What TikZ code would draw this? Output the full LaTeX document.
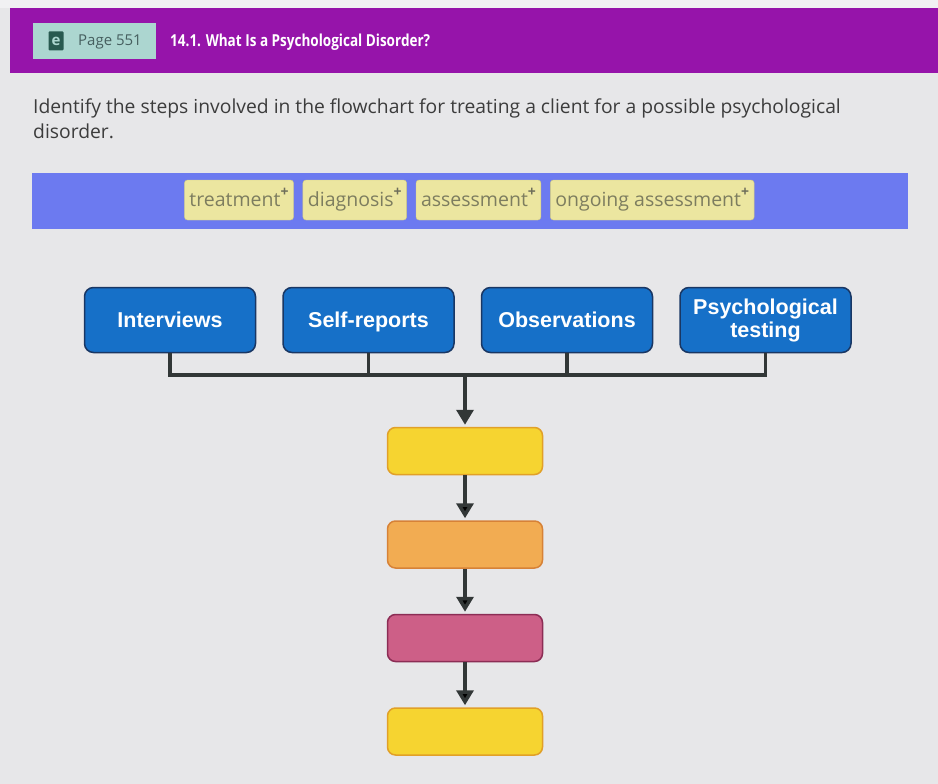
\documentclass[tikz,border=0pt]{standalone}
\usepackage{fontspec}
\setmainfont{Open Sans}
\newfontfamily\boxfont{Liberation Sans}
\usetikzlibrary{positioning,arrows.meta}

\definecolor{pagebg}{RGB}{231,231,233}
\definecolor{topstrip}{RGB}{241,241,243}
\definecolor{headerpurple}{RGB}{150,20,170}
\definecolor{badgefill}{RGB}{172,214,208}
\definecolor{badgetext}{RGB}{70,95,95}
\definecolor{iconfill}{RGB}{40,90,80}
\definecolor{asktext}{RGB}{60,60,60}
\definecolor{bankblue}{RGB}{108,122,240}
\definecolor{chipfill}{RGB}{236,230,160}
\definecolor{chipedge}{RGB}{205,200,130}
\definecolor{chiptext}{RGB}{125,125,95}
\definecolor{plusgray}{RGB}{110,110,90}
\definecolor{srcblue}{RGB}{22,112,200}
\definecolor{srcedge}{RGB}{25,55,100}
\definecolor{wiregray}{RGB}{50,55,55}
\definecolor{yellowfill}{RGB}{246,212,48}
\definecolor{yellowedge}{RGB}{225,160,40}
\definecolor{orangefill}{RGB}{242,172,82}
\definecolor{orangeedge}{RGB}{215,130,55}
\definecolor{pinkfill}{RGB}{205,95,135}
\definecolor{pinkedge}{RGB}{140,45,85}

\newcommand\plusmark{\raisebox{0.5em}{\textcolor{plusgray}{\fontsize{14}{14}\selectfont\bfseries +}}}

\begin{document}
\begin{tikzpicture}[x=1pt, y=-1pt, node distance=26pt,
    chip/.style={draw=chipedge, fill=chipfill, rounded corners=3pt, text=chiptext,
                 minimum height=40pt, inner xsep=5pt, text height=16pt, text depth=4pt,
                 font=\fontsize{19.5}{20}\selectfont},
    source box/.style={draw=srcedge, fill=srcblue, line width=1.5pt, rounded corners=9pt,
                 minimum width=171pt, minimum height=65pt, text=white, align=center,
                 font=\boxfont\bfseries\fontsize{21.5}{23}\selectfont},
    one line/.style={text height=18pt, text depth=3pt},
    slot/.style={rounded corners=8pt, line width=1.5pt, minimum width=155pt, minimum height=47pt},
    wire/.style={draw=wiregray, line width=3.5pt},
    flow arrow/.style={wire, -{Triangle[length=15pt,width=17pt]}, shorten >=2pt}]

    % page and header
    \fill[pagebg] (0,0) rectangle (938,784);
    \fill[topstrip] (0,0) rectangle (938,8);
    \fill[headerpurple] (10,8) rectangle (938,73);
    \node[fill=badgefill, minimum width=123pt, minimum height=36pt, inner sep=0pt] (page) at (94.5,41) {};
    \node[fill=iconfill, rounded corners=1pt, minimum width=15pt, minimum height=19pt, inner sep=0pt,
          text=badgefill, font=\bfseries\fontsize{15}{15}\selectfont] (icon) at (56,41) {e};
    \node[text=badgetext, font=\fontsize{15}{15}\selectfont] (pagenum) at (110,42) {Page 551};
    \node[anchor=west, text=white, inner sep=0pt, font=\bfseries\fontsize{16.5}{16.5}\selectfont] (title) at (170,42)
        {\scalebox{0.82}[1]{14.1. What Is a Psychological Disorder?}};

    % question
    \node[anchor=north west, align=left, text=asktext, inner sep=0pt,
          font=\fontsize{19.3}{25}\selectfont] (ask) at (33,99)
        {Identify the steps involved in the flowchart for treating a client for a possible psychological\\disorder.};

    % word bank
    \node[fill=bankblue, minimum width=876pt, minimum height=56pt, inner sep=0pt] (bank) at (470,201) {};
    \node[chip] (treat) at (239,200) {treatment\plusmark};
    \node[chip, right=9pt of treat] (diag) {diagnosis\plusmark};
    \node[chip, right=9pt of diag] (assess) {assessment\plusmark};
    \node[chip, right=9pt of assess] (ongoing) {ongoing assessment\plusmark};

    % sources
    \node[source box, one line] (interviews) at (170,320) {Interviews};
    \node[source box, one line, right=of interviews] (selfrep) {Self-reports};
    \node[source box, one line, right=of selfrep] (observ) {Observations};
    \node[source box, right=of observ] (testing) {Psychological\\testing};

    \coordinate (bus) at (465,375);
    \draw[wire] (interviews) |- (bus) -| (testing);
    \draw[wire] (selfrep) -- (selfrep |- bus);
    \draw[wire] (observ) -- (observ |- bus);

    % steps
    \node[slot, fill=yellowfill, draw=yellowedge] (1) at (465,451) {};
    \node[slot, fill=orangefill, draw=orangeedge, below=45pt of 1] (2) {};
    \node[slot, fill=pinkfill, draw=pinkedge, below=45pt of 2] (3) {};
    \node[slot, fill=yellowfill, draw=yellowedge, below=45pt of 3] (4) {};

    \draw[flow arrow] (bus) -- (1);
    \path[flow arrow]
    (1) edge (2)
    (2) edge (3)
    (3) edge (4);
\end{tikzpicture}
\end{document}
